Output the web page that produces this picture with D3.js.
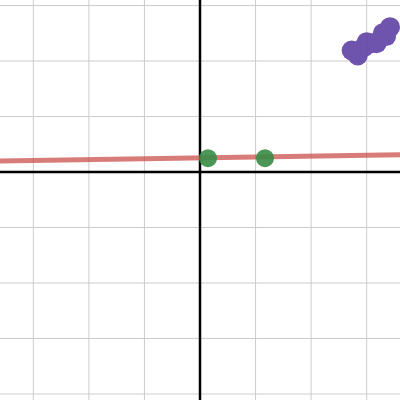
<!DOCTYPE html><html><head><script src="https://cdn.jsdelivr.net/npm/d3@7"></script>
<style>body{margin:0}</style></head><body><svg width="400" height="400"></svg>
<script>
const gridTicks=[-3,-2,-1,1,2,3];
const greenX=[0.144,1.17], greenY=[0.25,0.25];
const purpleX=[2.73,2.84,2.95,3.0,3.1,3.18,3.29,3.42,3.35], purpleY=[2.19,2.10,2.25,2.34,2.32,2.32,2.5,2.61,2.45];
const lineX=[-3.6,3.6], lineY=[0.2,0.31];
const svg=d3.select("svg");
const x=d3.scaleLinear([-3.6,3.6],[0,400]);
const y=d3.scaleLinear([-4.0,3.1],[394,0]);
svg.append("rect").attr("width",400).attr("height",400).attr("fill","#fff");
const g=svg.append("g");
gridTicks.forEach(t=>{g.append("line").attr("x1",x(t)).attr("x2",x(t)).attr("y1",0).attr("y2",400).attr("stroke","#ccc");});
[-4,-3,-2,-1,1,2,3].forEach(t=>{g.append("line").attr("y1",y(t)).attr("y2",y(t)).attr("x1",0).attr("x2",400).attr("stroke","#ccc");});
svg.append("line").attr("x1",x(0)).attr("x2",x(0)).attr("y1",0).attr("y2",400).attr("stroke","#000").attr("stroke-width",2.5);
svg.append("line").attr("y1",y(0)).attr("y2",y(0)).attr("x1",0).attr("x2",400).attr("stroke","#000").attr("stroke-width",2.5);
svg.append("line").attr("x1",x(lineX[0])).attr("x2",x(lineX[1])).attr("y1",y(lineY[0])).attr("y2",y(lineY[1])).attr("stroke","#c74440").attr("stroke-opacity",0.7).attr("stroke-width",5);
greenX.forEach((v,i)=>svg.append("circle").attr("cx",x(v)).attr("cy",y(greenY[i])).attr("r",9).attr("fill","#388c46").attr("opacity",0.9));
const pg=svg.append("g").attr("opacity",0.9);
purpleX.forEach((v,i)=>pg.append("circle").attr("cx",x(v)).attr("cy",y(purpleY[i])).attr("r",10).attr("fill","#6042a6"));
</script></body></html>
